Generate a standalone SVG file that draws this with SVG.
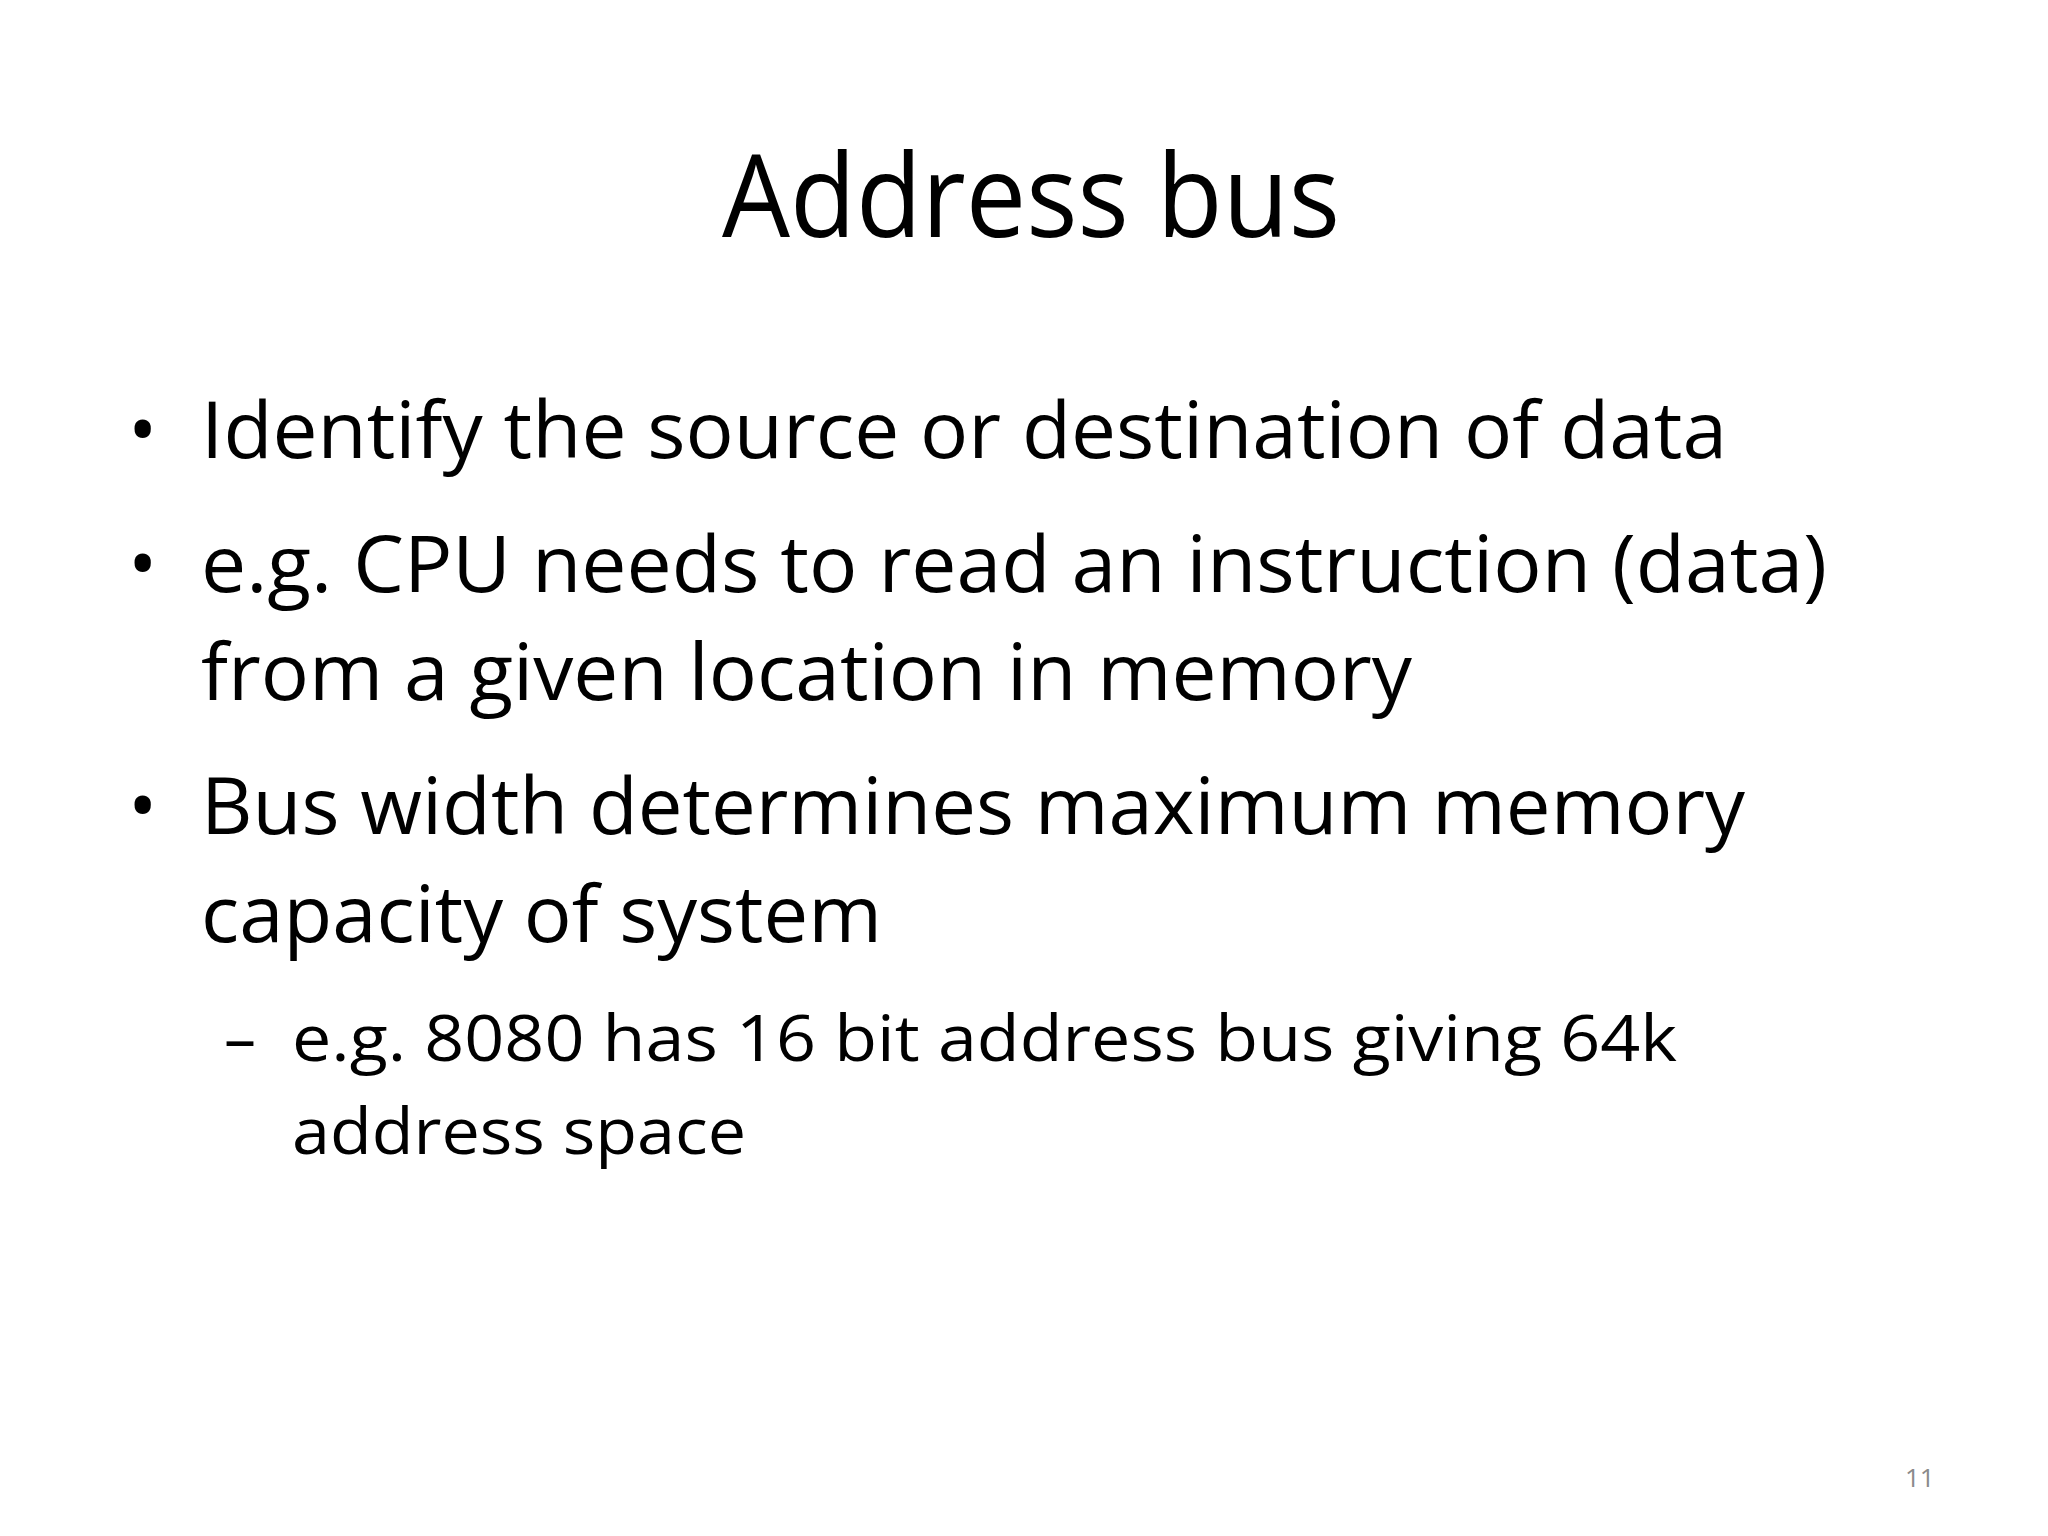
<svg xmlns="http://www.w3.org/2000/svg" width="2048" height="1536" viewBox="0 0 2048 1536">
<style>
text{font-family:"Open Sans","Liberation Sans",sans-serif;fill:#000}
.t{font-size:116px}
.b{font-size:78px}
.s{font-size:64px}
.n{font-size:26px;fill:#8a8a8a}
</style>
<rect width="2048" height="1536" fill="#fff"/>
<g id="title"><text class="t" x="722" y="237" textLength="618" lengthAdjust="spacingAndGlyphs">Address bus</text></g>
<g id="bullets">
<text class="b" x="128" y="458">•</text>
<text class="b" x="201" y="458" textLength="1526" lengthAdjust="spacingAndGlyphs">Identify the source or destination of data</text>
<text class="b" x="128" y="592">•</text>
<text class="b" x="201" y="592" textLength="1626" lengthAdjust="spacingAndGlyphs">e.g. CPU needs to read an instruction (data)</text>
<text class="b" x="201" y="700" textLength="1211" lengthAdjust="spacingAndGlyphs">from a given location in memory</text>
<text class="b" x="128" y="834">•</text>
<text class="b" x="201" y="834" textLength="1544" lengthAdjust="spacingAndGlyphs">Bus width determines maximum memory</text>
<text class="b" x="201" y="942" textLength="681" lengthAdjust="spacingAndGlyphs">capacity of system</text>
<text class="s" x="224" y="1061">–</text>
<text class="s" x="292" y="1061" textLength="1385" lengthAdjust="spacingAndGlyphs">e.g. 8080 has 16 bit address bus giving 64k</text>
<text class="s" x="292" y="1154" textLength="454" lengthAdjust="spacingAndGlyphs">address space</text>
</g>
<g id="page"><text class="n" x="1905" y="1487">11</text></g>
</svg>
